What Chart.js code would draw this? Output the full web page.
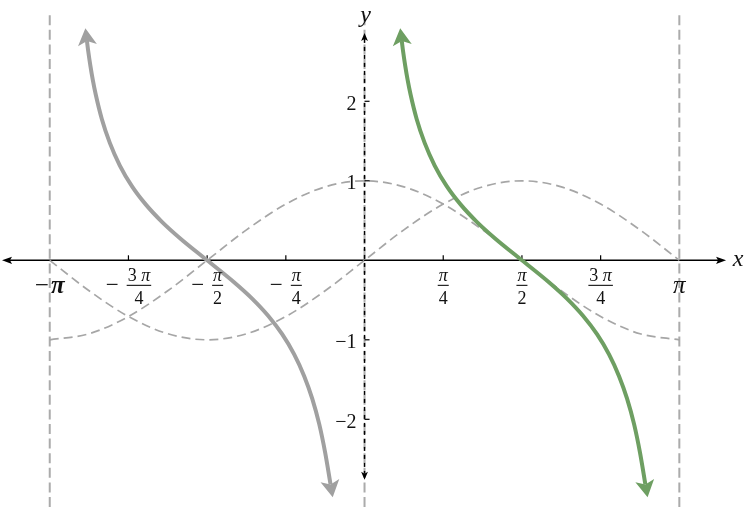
<!DOCTYPE html>
<html>
<head>
<meta charset="utf-8">
<style>
  html, body { margin: 0; padding: 0; background: #fff; }
  #plot { display: block; }
</style>
<script src="https://cdn.jsdelivr.net/npm/chart.js@4.4.1/dist/chart.umd.min.js"></script>
</head>
<body>
<canvas id="plot" width="744" height="507"></canvas>
<script>
/* visible window of the plot (data units) */
var xMin = -3.638, xMax = 3.787;
var yMin = -3.103, yMax = 3.274;

/* cot branch on (0, pi) */
var greenX = [0.372, 0.385, 0.405, 0.43, 0.46, 0.52, 0.60, 0.70, 0.82, 0.96, 1.12, 1.30, 1.571,
              1.84, 2.02, 2.18, 2.32, 2.44, 2.54, 2.62, 2.69, 2.75, 2.803];
var greenY = [2.757, 2.625, 2.455, 2.269, 2.082, 1.778, 1.477, 1.192, 0.933, 0.700, 0.484, 0.278, 0,
              -0.276, -0.482, -0.698, -0.930, -1.183, -1.457, -1.740, -2.061, -2.425, -2.82];

/* cot branch on (-pi, 0) */
var grayX = [-2.770, -2.757, -2.737, -2.712, -2.682, -2.622, -2.542, -2.442, -2.322, -2.182, -2.022, -1.842, -1.571,
             -1.302, -1.122, -0.962, -0.822, -0.702, -0.602, -0.522, -0.452, -0.392, -0.339];
var grayY = [2.757, 2.625, 2.455, 2.269, 2.082, 1.778, 1.477, 1.192, 0.933, 0.700, 0.484, 0.278, 0,
             -0.276, -0.482, -0.698, -0.930, -1.183, -1.457, -1.740, -2.061, -2.425, -2.82];

/* dashed cos / sin guides */
var waveX = [-3.1416, -2.7489, -2.3562, -1.9635, -1.5708, -1.1781, -0.7854, -0.3927, 0,
             0.3927, 0.7854, 1.1781, 1.5708, 1.9635, 2.3562, 2.7489, 3.1416];
var cosY  = [-1, -0.924, -0.707, -0.383, 0, 0.383, 0.707, 0.924, 1,
             0.924, 0.707, 0.383, 0, -0.383, -0.707, -0.924, -1];
var sinY  = [0, -0.383, -0.707, -0.924, -1, -0.924, -0.707, -0.383, 0,
             0.383, 0.707, 0.924, 1, 0.924, 0.707, 0.383, 0];

/* vertical asymptotes */
var asymptoteX = [-3.1416, 0, 3.1416];
var asymptoteTop = 3.085;

/* axes */
var xAxisEnds = [-3.618, 3.608];
var yAxisEnds = [-2.76, 2.86];
var xTickValues = [-3.1416, -2.3562, -1.5708, -0.7854, 0.7854, 1.5708, 2.3562, 3.1416];
var xTickSigns  = ['−', '−', '−', '−', '', '', '', ''];
var xTickNums   = ['π', '3 π', 'π', 'π', 'π', 'π', '3 π', 'π'];
var xTickDens   = ['', '4', '2', '4', '4', '2', '4', ''];
var yTickValues = [-2, -1, 1, 2];
var yTickLabels = ['−2', '−1', '1', '2'];

var GREEN = '#6e9f62';
var GRAY = '#a0a0a0';
var DASH_GRAY = '#a6a6a6';
var SERIF = "'Liberation Serif', 'DejaVu Serif', serif";

function pts(xs, ys) {
    return xs.map(function (x, i) { return { x: x, y: ys[i] }; });
}

/* notched arrow head: p = where the line stops, q = a point behind it */
function arrowHead(ctx, p, q, len, back, half, color) {
    var dx = p.x - q.x, dy = p.y - q.y;
    var d = Math.sqrt(dx * dx + dy * dy) || 1;
    dx /= d; dy /= d;
    var nx = -dy, ny = dx;
    ctx.save();
    ctx.fillStyle = color;
    ctx.beginPath();
    ctx.moveTo(p.x + dx * len, p.y + dy * len);
    ctx.lineTo(p.x - dx * back + nx * half, p.y - dy * back + ny * half);
    ctx.lineTo(p.x, p.y);
    ctx.lineTo(p.x - dx * back - nx * half, p.y - dy * back - ny * half);
    ctx.closePath();
    ctx.fill();
    ctx.restore();
}

/* text where pi is italic and everything else upright */
function mathRun(ctx, s, size, weight) {
    var parts = s.split('');
    var w = 0;
    parts.forEach(function (c) {
        ctx.font = (c === 'π' ? 'italic ' : '') + (weight || '') + ' ' + size + 'px ' + SERIF;
        w += ctx.measureText(c).width;
    });
    return {
        width: w,
        draw: function (x, y) {
            parts.forEach(function (c) {
                ctx.font = (c === 'π' ? 'italic ' : '') + (weight || '') + ' ' + size + 'px ' + SERIF;
                ctx.fillText(c, x, y);
                x += ctx.measureText(c).width;
            });
        }
    };
}

var mathAxes = {
    id: 'mathAxes',
    beforeDatasetsDraw: function (chart) {
        var ctx = chart.ctx, xs = chart.scales.x, ys = chart.scales.y;
        var y0 = ys.getPixelForValue(0);
        var left = xs.getPixelForValue(xAxisEnds[0]);
        var right = xs.getPixelForValue(xAxisEnds[1]);

        ctx.save();
        ctx.strokeStyle = '#000';
        ctx.lineWidth = 1.6;
        ctx.beginPath();
        ctx.moveTo(left + 8, y0);
        ctx.lineTo(right - 8, y0);
        ctx.stroke();

        // small ticks above the axis (not at +-pi)
        ctx.lineWidth = 1.2;
        xTickValues.forEach(function (v, i) {
            if (!xTickDens[i]) return;
            var px = xs.getPixelForValue(v);
            ctx.beginPath();
            ctx.moveTo(px, y0);
            ctx.lineTo(px, y0 - 5);
            ctx.stroke();
        });
        ctx.restore();

        arrowHead(ctx, { x: right - 8, y: y0 }, { x: right - 20, y: y0 }, 8, 2, 3.6, '#000');
        arrowHead(ctx, { x: left + 8, y: y0 }, { x: left + 20, y: y0 }, 8, 2, 3.6, '#000');
    },
    afterDatasetsDraw: function (chart) {
        var ctx = chart.ctx, xs = chart.scales.x, ys = chart.scales.y;
        var x0 = xs.getPixelForValue(0);
        var y0 = ys.getPixelForValue(0);
        var top = ys.getPixelForValue(yAxisEnds[1]);
        var bottom = ys.getPixelForValue(yAxisEnds[0]);

        // y axis: black dashes on top of the gray asymptote
        ctx.save();
        ctx.strokeStyle = '#000';
        ctx.lineWidth = 1.5;
        ctx.setLineDash([4, 4]);
        ctx.beginPath();
        ctx.moveTo(x0, top + 6);
        ctx.lineTo(x0, bottom - 6);
        ctx.stroke();
        ctx.setLineDash([]);
        ctx.lineWidth = 1.2;
        yTickValues.forEach(function (v) {
            var py = ys.getPixelForValue(v);
            ctx.beginPath();
            ctx.moveTo(x0, py);
            ctx.lineTo(x0 + 5, py);
            ctx.stroke();
        });
        ctx.restore();
        arrowHead(ctx, { x: x0, y: top + 6 }, { x: x0, y: top + 20 }, 6, 2, 3.4, '#000');
        arrowHead(ctx, { x: x0, y: bottom - 6 }, { x: x0, y: bottom - 20 }, 6, 2, 3.4, '#000');

        // curve arrow heads at both ends
        chart.data.datasets.forEach(function (ds, i) {
            if (!ds.arrows) return;
            var el = chart.getDatasetMeta(i).data;
            var n = el.length;
            arrowHead(ctx, el[0], el[1], 13, 4, 9.5, ds.borderColor);
            arrowHead(ctx, el[n - 1], el[n - 2], 13, 4, 9.5, ds.borderColor);
        });

        ctx.save();
        ctx.fillStyle = '#111';
        ctx.textBaseline = 'middle';

        // y tick labels
        ctx.font = '20px ' + SERIF;
        ctx.textAlign = 'right';
        yTickValues.forEach(function (v, i) {
            ctx.fillText(yTickLabels[i], x0 - 8, ys.getPixelForValue(v) + 3);
        });

        // x tick labels, fractions of pi
        var labelY = y0 + 26;
        ctx.textAlign = 'left';
        xTickValues.forEach(function (v, i) {
            var cx = xs.getPixelForValue(v);
            var sign = xTickSigns[i], num = xTickNums[i], den = xTickDens[i];
            var signW = 0;
            if (!den) {
                var big = mathRun(ctx, num, 25, sign ? 'bold' : '');
                ctx.font = '25px ' + SERIF;
                if (sign) signW = ctx.measureText(sign).width + 2;
                var sx = cx - (signW + big.width) / 2;
                if (sign) {
                    ctx.font = '25px ' + SERIF;
                    ctx.fillText(sign, sx, labelY);
                }
                big.draw(sx + signW, labelY);
                return;
            }
            var top = mathRun(ctx, num, 18);
            var bot = mathRun(ctx, den, 18);
            ctx.font = '23px ' + SERIF;
            if (sign) signW = ctx.measureText(sign).width + 8;
            var fw = Math.max(top.width, bot.width) + 2;
            var start = cx - (signW + fw) / 2;
            var fl = start + signW;
            if (sign) {
                ctx.font = '23px ' + SERIF;
                ctx.fillText(sign, start, labelY);
            }
            top.draw(fl + (fw - top.width) / 2, labelY - 10);
            bot.draw(fl + (fw - bot.width) / 2, labelY + 13);
            ctx.fillRect(fl, labelY - 1.5, fw, 1.1);
        });

        // axis names
        ctx.font = 'italic 24px ' + SERIF;
        ctx.textAlign = 'center';
        ctx.fillText('x', 738, y0 - 1);
        ctx.fillText('y', x0 + 1, 16);
        ctx.restore();
    }
};

var datasets = [
    { data: pts(greenX, greenY), borderColor: GREEN, borderWidth: 4, arrows: true,
      cubicInterpolationMode: 'monotone' },
    { data: pts(grayX, grayY), borderColor: GRAY, borderWidth: 4, arrows: true,
      cubicInterpolationMode: 'monotone' },
    { data: pts(waveX, cosY), borderColor: DASH_GRAY, borderWidth: 1.7, borderDash: [9, 5],
      cubicInterpolationMode: 'monotone' },
    { data: pts(waveX, sinY), borderColor: DASH_GRAY, borderWidth: 1.7, borderDash: [9, 5],
      cubicInterpolationMode: 'monotone' }
];
asymptoteX.forEach(function (ax) {
    datasets.push({
        data: [{ x: ax, y: yMin }, { x: ax, y: asymptoteTop }],
        borderColor: '#ababab', borderWidth: 2, borderDash: [10, 4.6]
    });
});
datasets.forEach(function (ds) {
    ds.showLine = true;
    ds.pointRadius = 0;
    ds.fill = false;
    ds.borderCapStyle = 'butt';
});

new Chart(document.getElementById('plot').getContext('2d'), {
    type: 'scatter',
    data: { datasets: datasets },
    options: {
        responsive: false,
        animation: false,
        layout: { padding: 0 },
        plugins: { legend: { display: false }, tooltip: { enabled: false } },
        scales: {
            x: { type: 'linear', min: xMin, max: xMax, display: false },
            y: { type: 'linear', min: yMin, max: yMax, display: false }
        }
    },
    plugins: [mathAxes]
});
</script>
</body>
</html>
